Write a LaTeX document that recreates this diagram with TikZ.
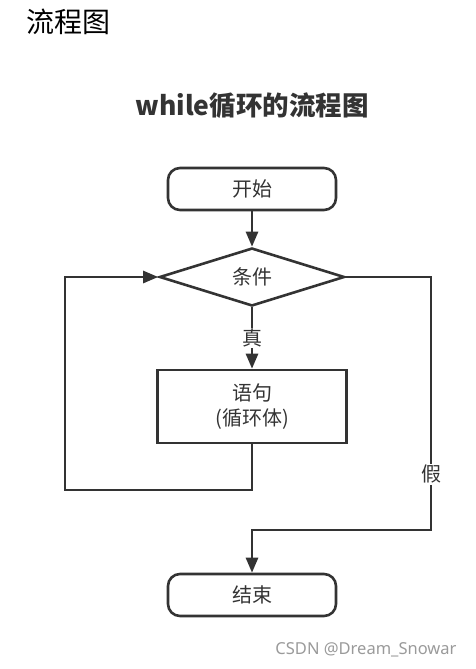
\documentclass[tikz,border=0pt]{standalone}
\usepackage{fontspec}
\setmainfont{Noto Sans}
\newfontfamily\cjk{Noto Sans CJK SC}
\usetikzlibrary{shapes.geometric,arrows.meta}
\definecolor{ln}{HTML}{333333}
\definecolor{wm}{HTML}{9A9A9A}
\begin{document}
\begin{tikzpicture}[x=1pt,y=-1pt,
  term/.style={draw=ln,line width=2.6pt,rounded corners=12pt,minimum width=168pt,minimum height=42pt,inner sep=0pt,text=ln,font=\cjk\fontsize{20}{22}\selectfont},
  cond/.style={draw=ln,line width=2.6pt,diamond,aspect=3.19,minimum width=185pt,minimum height=58pt,inner sep=0pt,text=ln,font=\cjk\fontsize{20}{22}\selectfont},
  stmt/.style={draw=ln,line width=2.6pt,minimum width=189pt,minimum height=73pt,inner sep=0pt,align=center,text=ln,font=\cjk\fontsize{20}{25}\selectfont},
  conn/.style={draw=ln,line width=2.6pt},
  arr/.style={conn,-{Triangle[length=15pt,width=12pt]}},
  lbl/.style={fill=white,inner sep=1pt,text=ln,font=\cjk\fontsize{20}{22}\selectfont}]
\useasboundingbox (0,0) rectangle (475,669);
\node[anchor=north west,inner sep=0pt,font=\cjk\fontsize{28}{30}\selectfont] (hdr) at (26,9) {流程图};
\node[text=ln,font=\cjk\bfseries\fontsize{26.5}{30}\selectfont] (title) at (252,106) {while循环的流程图};
\node[term] (start) at (252,189) {开始};
\node[cond] (c) at (252,277) {条件};
\node[stmt] (s) at (252,406.5) {语句\\(循环体)};
\node[term] (end) at (252,595) {结束};
\coordinate (l1) at (65,490);
\coordinate (l2) at (65,277);
\coordinate (b1) at (252,490);
\coordinate (r1) at (431,277);
\coordinate (r2) at (431,530);
\coordinate (r3) at (252,530);
\draw[arr] (start) -- (c);
\draw[arr] (c) -- node[lbl,pos=0.5] {真} (s);
\draw[arr] (s.south) -- (b1) -- (l1) -- (l2) -- (c.west);
\draw[arr] (c.east) -- (r1) -- node[lbl,pos=0.78] {假} (r2) -- (r3) -- (end.north);
\node[anchor=east,text=wm,font=\fontsize{16.5}{18}\selectfont] (wmk) at (460,650) {CSDN @Dream\_Snowar};
\end{tikzpicture}
\end{document}
